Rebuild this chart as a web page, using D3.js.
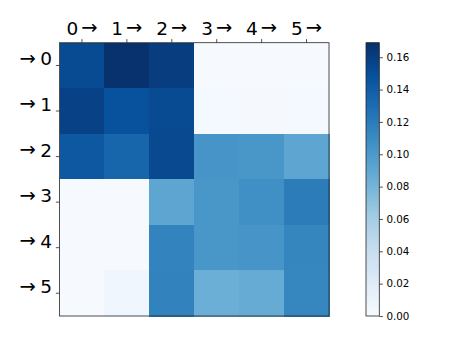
<!DOCTYPE html>
<html><head><meta charset="utf-8">
<script src="https://cdn.jsdelivr.net/npm/d3@7"></script>
<style>body{margin:0;background:#fff;}svg{display:block;font-family:"DejaVu Sans",sans-serif;}</style>
</head><body>
<div id="chart"></div>
<script>
const cols = ["0→","1→","2→","3→","4→","5→"];
const rows = ["→0","→1","→2","→3","→4","→5"];
const values = [
  [0.152, 0.168, 0.160, 0.001, 0.001, 0.001],
  [0.158, 0.148, 0.152, 0.003, 0.002, 0.003],
  [0.143, 0.135, 0.153, 0.103, 0.102, 0.091],
  [0.001, 0.001, 0.091, 0.102, 0.107, 0.120],
  [0.001, 0.001, 0.115, 0.102, 0.103, 0.114],
  [0.001, 0.006, 0.116, 0.084, 0.087, 0.113]
];
const vmin = 0, vmax = 0.169;
const cbarTicks = [0,0.02,0.04,0.06,0.08,0.10,0.12,0.14,0.16];
const bluesStops = ["#f7fbff","#deebf7","#c6dbef","#9ecae1","#6baed6","#4292c6","#2171b5","#08519c","#08306b"];

const W = 474, H = 355;
const svg = d3.select("#chart").append("svg").attr("width", W).attr("height", H);
const L = 59.5, R = 329, T = 42.7, B = 316;
const x = d3.scaleBand().domain(d3.range(6)).range([L, R]).paddingInner(0).paddingOuter(0);
const y = d3.scaleBand().domain(d3.range(6)).range([T, B]).paddingInner(0).paddingOuter(0);
const tNorm = d3.scaleLinear().domain([vmin, vmax]).range([0,1]).clamp(true);
const blues = d3.scaleLinear().domain(d3.range(9).map(i => i/8)).range(bluesStops).interpolate(d3.interpolateRgb);
const color = v => blues(tNorm(v));

const cells = [];
values.forEach((r, i) => r.forEach((v, j) => cells.push({i, j, v})));
svg.append("g").selectAll("rect").data(cells).join("rect")
  .attr("x", d => x(d.j)).attr("y", d => y(d.i))
  .attr("width", x.bandwidth()+0.5).attr("height", y.bandwidth()+0.5)
  .attr("fill", d => color(d.v)).attr("shape-rendering","crispEdges");

// frame
svg.append("rect").attr("x", L).attr("y", T).attr("width", R-L).attr("height", B-T)
  .attr("fill","none").attr("stroke","#262626").attr("stroke-width",0.8);

function styleLabel(sel, labels, arrowFirst) {
  sel.each(function(i) {
    const t = d3.select(this);
    const s = labels[i];
    const digit = s.replace("→", "");
    t.text(null).attr("font-family","DejaVu Sans").attr("fill","#000");
    if (arrowFirst) {
      t.append("tspan").attr("font-size","19.5px").attr("dy","-0.03em").text("→");
      t.append("tspan").attr("font-size","18.5px").attr("dx","4.5").attr("dy","0.03em").text(digit);
    } else {
      t.append("tspan").attr("font-size","18.5px").text(digit);
      t.append("tspan").attr("font-size","19.5px").attr("dx","3").attr("dy","-0.03em").text("→");
    }
  });
}

// top axis
const xAxis = d3.axisTop(x).tickSize(3.6).tickPadding(4.5).tickFormat(i => cols[i]);
const gx = svg.append("g").attr("transform", `translate(0,${T})`).call(xAxis);
gx.select(".domain").remove();
gx.selectAll("line").attr("stroke","#262626").attr("stroke-width",0.8);
styleLabel(gx.selectAll(".tick text"), cols, false);

// left axis
const yAxis = d3.axisLeft(y).tickSize(3.6).tickPadding(3.8).tickFormat(i => rows[i]);
const gy = svg.append("g").attr("transform", `translate(${L},0)`).call(yAxis);
gy.select(".domain").remove();
gy.selectAll("line").attr("stroke","#262626").attr("stroke-width",0.8);
styleLabel(gy.selectAll(".tick text"), rows, true);

// colorbar
const cbL = 366, cbR = 379.3;
const cy = d3.scaleLinear().domain([vmin, vmax]).range([B, T]);
const defs = svg.append("defs");
const grad = defs.append("linearGradient").attr("id","cbg").attr("x1",0).attr("y1",1).attr("x2",0).attr("y2",0);
grad.selectAll("stop").data(bluesStops).join("stop")
  .attr("offset",(d,i)=> i/8).attr("stop-color", d=>d);
svg.append("rect").attr("x", cbL).attr("y", T).attr("width", cbR-cbL).attr("height", B-T)
  .attr("fill","url(#cbg)");
svg.append("rect").attr("x", cbL).attr("y", T).attr("width", cbR-cbL).attr("height", B-T)
  .attr("fill","none").attr("stroke","#262626").attr("stroke-width",0.8);
const cAxis = d3.axisRight(cy).tickValues(cbarTicks).tickSize(3.6).tickPadding(3.6).tickFormat(d3.format(".2f"));
const gc = svg.append("g").attr("transform", `translate(${cbR},0)`).call(cAxis);
gc.select(".domain").remove();
gc.selectAll("line").attr("stroke","#262626").attr("stroke-width",0.8);
gc.selectAll("text").attr("font-size","10.3px").attr("fill","#000").attr("font-family","DejaVu Sans");
</script>
</body></html>
